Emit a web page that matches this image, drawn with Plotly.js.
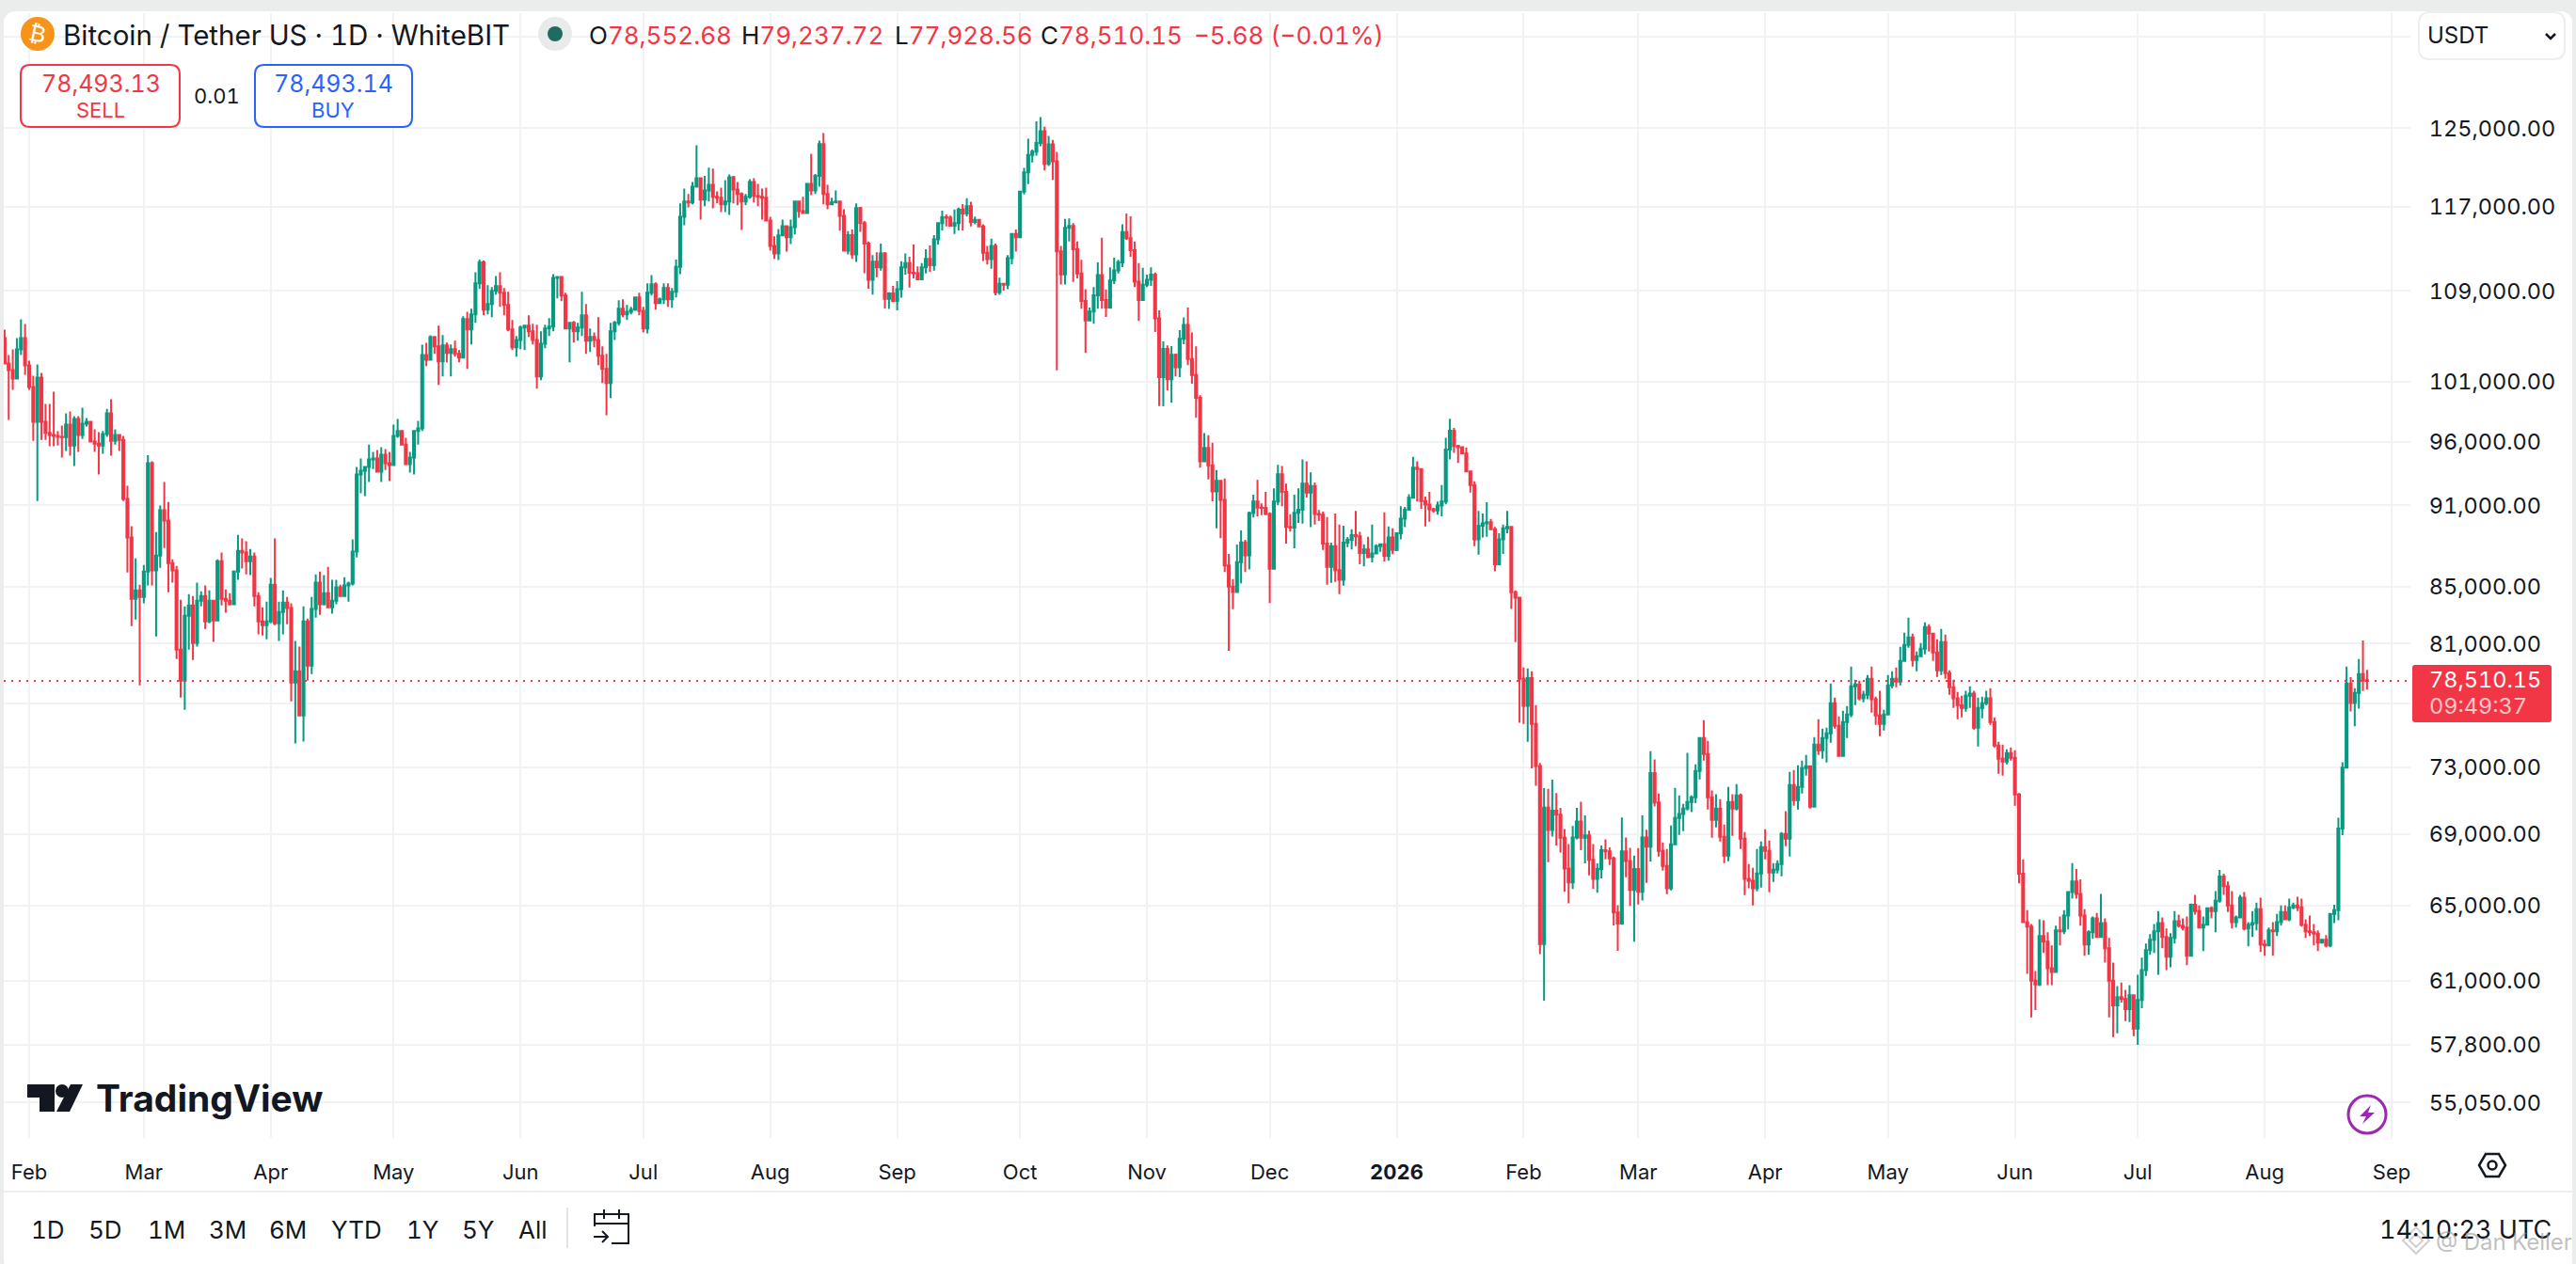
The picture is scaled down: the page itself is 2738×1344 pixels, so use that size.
<!DOCTYPE html>
<html><head><meta charset="utf-8">
<script src="https://cdn.plot.ly/plotly-3.0.1.min.js"></script>
<style>
html,body{margin:0;padding:0;width:2738px;height:1344px;overflow:hidden;background:#ebeded}
#panel{position:absolute;left:4px;top:12px;width:2730px;height:1340px;background:#fff;border-radius:12px}
#chart{position:absolute;left:0;top:0;width:2738px;height:1344px}
svg text{font-feature-settings:"tnum" 1;font-variant-numeric:tabular-nums}
</style></head><body><div id="panel"></div><div id="chart"></div>
<script>
const firstDay = '2025-01-26';
const lastPrice = 78510.15;
const opens = [104760,102550,101980,101250,103765,104760,102390,100535,97640,101325,
97640,96720,96565,96490,96410,96380,97410,95710,97870,96565,
97485,97640,96015,95860,95710,96640,98330,96090,96565,96165,
91490,88570,84125,84725,84255,86080,94285,86150,87245,90630,
89845,86690,86150,80605,78520,82935,83660,81055,83990,84320,
82540,83990,82605,86830,84125,83990,83730,86080,87590,87455,
86830,87175,84320,82540,82275,82540,85130,82410,83200,83860,
83465,78400,79150,76260,82540,79525,83400,85270,83730,84525,
83530,83990,84930,84320,85065,85200,87525,93395,93690,93985,
94585,94660,93615,94960,94285,94135,96490,96875,95785,94210,
94735,96875,97100,103280,102870,
104840,104030,102720,104110,103460,103785,103375,103050,106450,105530,
106865,109690,111650,107285,107800,109005,109435,108830,107715,105530,
103945,104600,105695,105860,105360,104600,101425,104270,105610,105780,
110210,110295,108575,105610,106115,105360,105695,106785,104520,104855,
104600,103210,102070,100870,105360,106115,107370,106865,107115,107285,
108400,107200,105610,108830,109605,107885,108230,109260,108230,108920,
111240,116020,117510,117415,119000,119840,117695,118625,119185,117975,
117880,117230,117510,119935,118720,118255,117510,117975,119470,118070,
117975,117880,115660,113210,112500,114210,115110,114030,115020,117510,
116575,116390,119280,118625,120085,123320,118255,117230,117420,117510,116110,
112765,114250,112395,116875,115400,113420,110030,111720,111180,112495,
108280,108770,108080,109165,111180,111585,110670,110640,110060,111180,
111990,111380,113835,115400,115960,115925,115155,115400,116730,116340,
117050,115505,115715,115085,112560,111955,113205,108870,109655,109560,
112055,114350,114040,118495,120445,122220,122555,123445,124690,121300,
123295,121555,112690,110535,114950,115125,112900,110605,108080,106315,
107130,108605,110470,108180,107490,109960,110905,111650,114530,113940,
112800,109860,108180,109560,110030,110505,106510,101375,103800,101190,
103295,102210,104690,105935,102920,101560,99630,94445,95520,94130,
92075,92895,91430,86520,84985,84600,86755,88215,87260,90415,
91295,
90830,90820,90350,86270,91305,93425,92045,89375,89315,90440,
90675,92690,91980,92505,90350,90290,88130,86420,87925,86180,
85470,88190,88400,88755,88665,87420,87690,87130,87395,87925,
88075,87215,88575,87660,88900,89995,90675,91585,93945,93820,
91340,91060,90705,90615,91000,91305,95385,96900,95660,95570,
95080,93640,92565,88430,89460,89640,89730,89195,86595,88430,
89255,89375,84585,84200,78640,76875,78700,75715,73075,62910,
70565,69255,70380,70145,68800,67040,66260,68820,69750,68800,
68935,67530,66460,67015,68085,68020,67615,64600,64010,68020,
67460,65850,67015,65735,68820,68285,72650,
70870,68045,67190,65930,68425,69960,70185,70515,70900,71185,
72777,74820,73825,71185,69850,70515,68855,67780,70900,70515,
71300,68745,66455,66350,65930,66765,68265,68045,66820,66975,
67295,69020,68745,71925,71015,71810,72950,73070,70625,74410,
74060,74820,75120,77050,75600,73710,75840,76320,78155,78280,
77360,77600,78645,77300,76260,75720,76320,78215,78645,78460,
79845,80920,81440,79905,80160,80665,82150,81695,80410,79210,
81110,79020,78095,77360,76925,76740,77540,77665,75480,76740,
77050,77360,75840,74350,73535,73360,73885,73595,
71355,66750,64085,63840,61000,60815,63340,63040,61645,61450,
63640,63590,64435,65730,66320,65625,64435,62890,63540,64285,
63290,64035,62690,61000,59750,60165,60070,59560,60260,58590,
60025,61550,62590,63140,63590,64035,63290,62245,63240,64135,
63890,63790,62295,65035,64685,63790,63940,64835,64685,65250,
66590,66055,64985,64085,64335,65410,63740,63940,64035,64785,
62890,62840,63640,63590,64085,64635,64235,64885,64985,64885,
63940,63590,63540,63470,62990,63140,62840,64535,64735,69330,
72980,78330,77060,77725,78955,78552.68];
const highs = [105510,103280,103765,104760,106430,106010,102790,101486,102470,101730,
99110,99110,100140,96875,97330,98330,98480,98100,98100,98790,
97945,97715,97025,96795,96875,98710,99510,97025,96640,96490,
92515,89415,87035,85130,86555,94930,94435,88985,90985,92810,
91270,86970,86490,84060,83595,84455,84320,85270,84660,85065,
84725,83990,86970,87455,84795,84525,86150,88775,88500,88290,
87730,87455,84590,83530,83925,85605,88500,83925,84725,84255,
83795,81185,80800,83595,82740,84255,85875,86080,85810,86420,
85470,85470,85130,85670,85335,88430,93985,94660,94000,95785,
95185,95335,95560,95410,95185,97410,97870,96950,96330,95185,
96900,97715,104170,104340,105010,
104935,105860,105020,104355,104190,104520,103700,106700,107115,107370,
110720,111915,111825,109520,109350,110380,110720,109260,108920,106365,
104935,105860,105945,106785,106030,105945,105360,105945,106530,110550,
110380,110380,108830,106200,106280,106115,108920,107800,105610,105250,
106615,104030,103375,106115,106280,108145,108230,107715,107545,108490,
108830,107545,109690,110465,109780,108400,109690,109690,109260,111915,
117325,118810,118255,119470,123220,119935,120085,120910,120815,118530,
118905,119650,120220,120085,119470,118440,118255,119750,119840,119280,
118810,118905,116020,114120,114840,115750,115110,115750,117600,117600,
117975,119375,122335,120280,123710,124490,119185,117880,118625,117600,116760,
114630,114775,117340,116980,115610,113625,112325,112600,113420,112630,
108870,109460,109895,111755,112495,112190,113350,111280,111585,112900,
113245,114250,115430,116620,116240,116135,116730,116910,117270,117850,
117490,116030,115820,115295,113205,113905,113420,110230,109690,112325,
114400,114775,118565,120890,123890,122775,125720,126180,125150,124195,
123775,122520,113205,115820,115855,115400,113625,111885,109165,107490,
109360,111650,114000,109130,111180,112090,111885,115295,116340,116060,
113625,111585,111145,110505,111180,110705,107230,104470,104120,104055,
103390,105455,106605,107490,105265,104025,99840,96715,96540,95925,
93760,92895,93090,87365,85525,88055,89100,88400,90525,91825,
92975,
91155,92045,90470,92320,94160,94070,92690,90320,91830,92320,
94590,94435,93575,92780,90645,90525,90115,88190,90380,89550,
89460,88605,89195,90585,88990,88075,88635,89550,88075,88105,
90470,89405,89255,88960,90940,90880,91860,94805,94435,93790,
91680,92045,90820,91305,92565,96320,97890,97125,95755,95600,
95540,93700,92870,90585,90380,91245,89965,89375,88900,89550,
90585,89375,84725,84255,79395,79340,79150,76925,73275,71735,
71690,72250,71430,70545,69305,68440,69490,70545,70920,70100,
69210,68440,67330,68355,68710,68240,67720,65000,69985,68820,
68220,67775,68200,70100,69260,74000,73480,
71415,68535,68155,69515,71755,71300,70790,73900,71300,73185,
74880,75960,74645,71585,71360,71070,69570,71810,71360,71980,
71415,69130,67295,67080,68155,68590,69295,68640,67350,67510,
69130,70350,72720,72835,73130,73420,73770,73130,74880,76020,
75420,75480,78340,77415,76200,76560,76865,79465,78585,78525,
77850,78895,79465,77480,77850,76620,78895,79150,79400,80790,
81760,82800,81695,80475,81050,82475,82345,81760,81305,82020,
81630,79210,78585,77785,77540,77850,78155,77850,77415,77480,
77850,78030,76140,74585,74410,74120,74235,74060,
71440,67555,64735,63985,61500,64235,64185,63540,62840,63890,
64385,64735,65785,67340,67020,66430,64785,63640,64385,64585,
65625,64285,63240,61945,60720,60905,60535,60770,60260,61300,
62195,62940,63440,63985,64685,64335,63740,63490,64685,64485,
64285,64385,65090,65570,64985,64385,64860,64935,65785,66965,
66750,66320,65785,64435,65570,65730,64085,64685,65145,65410,
63140,63790,64085,64535,64985,64985,65360,65145,65465,65360,
64235,64435,63985,63640,63190,63390,64585,65035,69965,73315,
79460,78760,78025,79965,81230,79237.72];
const lows = [102550,97790,100300,101250,103280,101570,100300,96090,91340,96165,
96165,95635,95635,95710,94735,95260,94885,94060,95185,96240,
97255,96015,95185,93395,95035,96410,94885,95785,95260,91340,
86010,82210,82670,78210,83795,85065,85065,81505,86350,87800,
84590,85270,79965,77410,76620,80605,79900,80800,83595,82020,
82410,81120,82540,83660,83135,83660,83795,85470,86285,85875,
85810,83595,81635,81570,81310,82410,82275,81185,81635,82340,
77165,74480,76195,74600,78520,78960,82805,83000,83660,83530,
83070,83730,84320,84320,83925,85065,87105,91930,91710,92810,
93835,93615,92810,93760,92880,94135,96330,95785,94135,93540,
93395,95785,96875,102310,102870,
103375,100710,101425,102640,101425,103130,102640,103050,102070,104190,
106115,109175,106785,106865,106615,108660,107545,106785,105360,103700,
103130,103785,103700,104855,104190,100390,101110,103865,104935,105360,
108320,108060,105610,102640,104355,104520,104935,103375,103540,103945,
102395,100870,98170,99595,104600,105860,106615,106365,106865,107200,
106785,105250,105165,108575,107285,107800,107800,107545,107460,108400,
110550,115205,116950,117230,118905,115750,117045,117510,116855,117325,
116480,116480,116200,117325,117140,114750,117140,117790,117415,117045,
115750,115565,112765,111970,111880,114120,112680,113390,114300,115930,
116390,116390,118160,118255,119000,117230,116760,117140,117325,114660,112765,
112395,111990,111685,114560,110640,109200,108670,110270,110875,107400,
107360,108020,107230,108380,110505,109300,110165,110030,110060,110605,
110775,110875,113350,114700,115085,115085,114350,114700,114700,116030,
115085,115295,115085,111785,111450,111045,108605,108640,109035,109165,
111480,112665,113970,118220,119250,121445,122150,123110,120630,121075,
119680,101960,109590,109590,113625,109825,110165,107390,103450,106315,
106030,107390,107390,106640,107390,109625,110605,111215,113800,112190,
109360,106285,108180,109360,109460,105295,98945,98915,100265,99215,
101440,101375,104215,102395,100820,97955,93930,94445,93005,91320,
89265,88530,86040,80520,83395,84600,85220,86040,86225,90085,
90170,
90260,90260,83815,86240,91030,90940,88130,89020,87775,89670,
89610,91615,89345,89550,89820,87660,85120,85265,85325,84450,
85060,87865,87690,87925,86595,86450,87040,86745,87335,87510,
86800,86860,87335,87570,88430,89345,90615,91555,91305,90735,
89405,89760,90440,90290,90170,91090,94590,95110,94315,95020,
93640,91980,87925,87305,88575,88635,89195,86095,86535,87365,
88900,83400,81110,75790,75715,74580,72930,71875,62385,59985,
67395,68865,68355,67950,65745,65110,65900,68710,68085,67330,
66660,65900,65690,66480,67555,67240,63900,62550,63945,66550,
64960,63040,65045,65265,66235,67440,70640,
67725,66925,65610,65820,68370,68965,69185,70405,70295,70825,
72265,73420,70460,68800,69405,68585,67350,67455,68910,70405,
68155,65560,65930,64995,65770,65980,67565,65720,66295,66765,
66610,68310,67725,70680,70460,71415,72490,70515,70570,73765,
73535,73300,74525,75420,73710,73710,74820,76140,76925,77235,
77110,77300,76440,75660,74940,75300,76260,78030,78095,78215,
79780,80730,79465,79150,80095,80285,80475,79845,78770,78895,
78645,77600,76740,76020,76140,76500,76740,75360,74290,76080,
76925,75660,74235,72600,72490,73185,73420,70680,
66215,64085,61350,59145,59515,60720,62445,60770,60770,61450,
62840,63440,63690,65360,65360,63890,62295,62345,63190,63290,
63290,61945,59145,58170,58355,59890,58960,58915,58220,57800,
59610,61250,62345,62445,61300,62690,61550,61695,62940,63790,
63640,61800,62295,64485,63740,62545,63890,64285,63540,65145,
65570,64635,63740,63790,64285,63640,62790,63290,63640,62495,
62295,62790,62295,63340,63890,64185,64135,64785,64685,63840,
63240,63340,62840,62545,62940,62745,62745,64035,64185,68945,
72925,76520,75560,76700,77845,77928.56];
const closes = [102550,101980,101250,103765,104760,102390,100535,97640,101325,97640,
96720,96565,96490,96410,96380,97410,95710,97870,96565,97485,
97640,96015,95860,95710,96640,98330,96090,96565,96165,91490,
88570,84125,84725,84255,86080,94285,86150,87245,90630,89845,
86690,86150,80605,78520,82935,83660,81055,83990,84320,82540,
83990,82605,86830,84125,83990,83730,86080,87590,87455,86830,
87175,84320,82540,82275,82540,85130,82410,83200,83860,83465,
78400,79150,76260,82540,79525,83400,85270,83730,84525,83530,
83990,84930,84320,85065,85200,87525,93395,93690,93985,94585,
94660,93615,94960,94285,94135,96490,96875,95785,94210,94735,
96875,97100,103280,102870,104840,
104030,102720,104110,103460,103785,103375,103050,106450,105530,106865,
109690,111650,107285,107800,109005,109435,108830,107715,105530,103945,
104600,105695,105860,105360,104600,101425,104270,105610,105780,110210,
110295,108575,105610,106115,105360,105695,106785,104520,104855,104600,
103210,102070,100870,105360,106115,107370,106865,107115,107285,108400,
107200,105610,108830,109605,107885,108230,109260,108230,108920,111240,
116020,117510,117415,119000,119840,117695,118625,119185,117975,117880,
117230,117510,119935,118720,118255,117510,117975,119470,118070,117975,
117880,115660,113210,112500,114210,115110,114030,115020,117510,116575,
116390,119280,118625,120085,123320,118255,117230,117420,117510,116110,112765,
114250,112395,116875,115400,113420,110030,111720,111180,112495,108280,
108770,108080,109165,111180,111585,110670,110640,110060,111180,111990,
111380,113835,115400,115960,115925,115155,115400,116730,116340,117050,
115505,115715,115085,112560,111955,113205,108870,109655,109560,112055,
114350,114040,118495,120445,122220,122555,123445,124690,121300,123295,
121555,112690,110535,114950,115125,112900,110605,108080,106315,107130,
108605,110470,108180,107490,109960,110905,111650,114530,113940,112800,
109860,108180,109560,110030,110505,106510,101375,103800,101190,103295,
102210,104690,105935,102920,101560,99630,94445,95520,94130,92075,
92895,91430,86520,84985,84600,86755,88215,87260,90415,91295,
90830,
90820,90350,86270,91305,93425,92045,89375,89315,90440,90675,
92690,91980,92505,90350,90290,88130,86420,87925,86180,85470,
88190,88400,88755,88665,87420,87690,87130,87395,87925,88075,
87215,88575,87660,88900,89995,90675,91585,93945,93820,91340,
91060,90705,90615,91000,91305,95385,96900,95660,95570,95080,
93640,92565,88430,89460,89640,89730,89195,86595,88430,89255,
89375,84585,84200,78640,76875,78700,75715,73075,62910,70565,
69255,70380,70145,68800,67040,66260,68820,69750,68800,68935,
67530,66460,67015,68085,68020,67615,64600,64010,68020,67460,
65850,67015,65735,68820,68285,72650,70870,
68045,67190,65930,68425,69960,70185,70515,70900,71185,72777,
74820,73825,71185,69850,70515,68855,67780,70900,70515,71300,
68745,66455,66350,65930,66765,68265,68045,66820,66975,67295,
69020,68745,71925,71015,71810,72950,73070,70625,74410,74060,
74820,75120,77050,75600,73710,75840,76320,78155,78280,77360,
77600,78645,77300,76260,75720,76320,78215,78645,78460,79845,
80920,81440,79905,80160,80665,82150,81695,80410,79210,81110,
79020,78095,77360,76925,76740,77540,77665,75480,76740,77050,
77360,75840,74350,73535,73360,73885,73595,71355,
66750,64085,63840,61000,60815,63340,63040,61645,61450,63640,
63590,64435,65730,66320,65625,64435,62890,63540,64285,63290,
64035,62690,61000,59750,60165,60070,59560,60260,58590,60025,
61550,62590,63140,63590,64035,63290,62245,63240,64135,63890,
63790,62295,65035,64685,63790,63940,64835,64685,65250,66590,
66055,64985,64085,64335,65410,63740,63940,64035,64785,62890,
62840,63640,63590,64085,64635,64235,64885,64985,64885,63940,
63590,63540,63470,62990,63140,62840,64535,64735,69330,72980,
78330,77060,77725,78955,78515.83,78510.15];
const priceTicks = [135000,125000,117000,109000,101000,96000,91000,85000,81000,77000,73000,69000,65000,61000,57800,55050];
const priceLabels = ['','125,000.00','117,000.00','109,000.00','101,000.00','96,000.00','91,000.00','85,000.00','81,000.00','','73,000.00','69,000.00','65,000.00','61,000.00','57,800.00','55,050.00'];
const monthTicks = ['2025-02-01','2025-03-01','2025-04-01','2025-05-01','2025-06-01','2025-07-01','2025-08-01','2025-09-01','2025-10-01','2025-11-01','2025-12-01','2026-01-01','2026-02-01','2026-03-01','2026-04-01','2026-05-01','2026-06-01','2026-07-01','2026-08-01','2026-09-01'];
const monthLabels = ['Feb','Mar','Apr','May','Jun','Jul','Aug','Sep','Oct','Nov','Dec','<b>2026</b>','Feb','Mar','Apr','May','Jun','Jul','Aug','Sep'];
const rangeButtons = [['1D',51],['5D',112],['1M',177],['3M',242],['6M',306],['YTD',379],['1Y',449],['5Y',508],['All',566]];

const RED='#F23645', GREEN='#089981', BLUE='#2962FF', INK='#131722', GRID='#f1f2f3';
const FONT='Inter, "Noto Sans", sans-serif';
const W=2738,H=1344,mL=4,mR=176,mT=14,mB=134;
const px=x=>(x-mL)/(W-mL-mR), py=y=>1-(y-mT)/(H-mT-mB);
const dates=opens.map((_,i)=>new Date(Date.parse(firstDay+'T00:00:00Z')+i*864e5).toISOString().slice(0,10));

const notes=[];
function label(text,x,y,size,color,anchor='left',extra={}){
  notes.push(Object.assign({text,xref:'paper',yref:'paper',x:px(x),y:py(y),xanchor:anchor,yanchor:'middle',showarrow:false,
    font:{family:FONT,size,color},borderpad:0},extra));
}
const shapes=[];
function P(s){ // pixel path -> paper path
  let n=0;
  return s.replace(/-?\d+(\.\d+)?/g,m=>{const v=parseFloat(m);return (n++%2===0?px(v):py(v)).toFixed(6);});
}
function path(s,o={}){shapes.push(Object.assign({type:'path',xref:'paper',yref:'paper',path:P(s),layer:'above',line:{width:0}},o));}
function rr(x0,y0,x1,y1,r){return `M ${x0+r} ${y0} L ${x1-r} ${y0} Q ${x1} ${y0} ${x1} ${y0+r} L ${x1} ${y1-r} Q ${x1} ${y1} ${x1-r} ${y1} L ${x0+r} ${y1} Q ${x0} ${y1} ${x0} ${y1-r} L ${x0} ${y0+r} Q ${x0} ${y0} ${x0+r} ${y0} Z`;}
function circle(cx,cy,r,o){shapes.push(Object.assign({type:'circle',xref:'paper',yref:'paper',x0:px(cx-r),x1:px(cx+r),y0:py(cy+r),y1:py(cy-r),layer:'above'},o));}
function seg(x0,y0,x1,y1,color,width){shapes.push({type:'line',xref:'paper',yref:'paper',x0:px(x0),x1:px(x1),y0:py(y0),y1:py(y1),layer:'above',line:{color,width}});}

// Header
circle(40,36,18,{fillcolor:'#F7931A',line:{width:0}});
label('₿',40,36,24,'#ffffff','center',{textangle:12,font:{family:'"DejaVu Sans",sans-serif',size:24,color:'#fff'}});
label('Bitcoin / Tether US · 1D · WhiteBIT',66,37,29.5,INK);
circle(590,36,18,{fillcolor:'#e9ebeb',line:{width:0}});
circle(590,36,8,{fillcolor:'#1f6b60',line:{width:0}});
[['O','78,552.68',625],['H','79,237.72',787],['L','77,928.56',950],['C','78,510.15',1105]].forEach(([k,v,x])=>{
  label(`<span style="color:${INK}">${k}</span>${v}`,x,37,26,RED);
});
label('−5.68 (−0.01%)',1268,37,26,RED);

// Sell / buy
path(rr(22,69,191,135,10),{fillcolor:'#fff',line:{color:RED,width:2}});
path(rr(271,69,438,135,10),{fillcolor:'#fff',line:{color:BLUE,width:2}});
label('78,493.13',107,89,25,RED,'center');
label('SELL',107,117,22,RED,'center');
label('0.01',230,102,22,INK,'center');
label('78,493.14',354,89,25,BLUE,'center');
label('BUY',354,117,22,BLUE,'center');

// Currency selector
path(rr(2571,13,2726,63,12),{fillcolor:'#fff',line:{color:'#eceeef',width:2}});
label('USDT',2579,38,24,INK);
path('M 2706 36 L 2711 41 L 2716 36',{line:{color:INK,width:2.5}});

// Last price tag
path(rr(2564,707,2712,768,3),{fillcolor:RED,line:{width:0}});
label('78,510.15',2581,722,23.5,'#ffffff');
label('09:49:37',2581,750,23.5,'rgba(255,255,255,0.72)');

// Logo
path('M 29 1153 L 58 1153 L 58 1182 L 42 1182 L 42 1167 L 29 1167 Z',{fillcolor:INK});
circle(66,1160,7,{fillcolor:INK,line:{width:0}});
path('M 75 1153 L 88 1153 L 74 1182 L 60 1182 Z',{fillcolor:INK});
label('<b>TradingView</b>',101,1167,39,INK);

// Lightning + settings
circle(2516,1185,20,{fillcolor:'rgba(255,255,255,0)',line:{color:'#9C27B0',width:3}});
path('M 2520 1175 L 2508 1187 L 2515 1187 L 2511 1195 L 2524 1183 L 2517 1183 Z',{fillcolor:'#9C27B0'});
path('M 2635 1239 L 2642 1227 L 2656 1227 L 2663 1239 L 2656 1251 L 2642 1251 Z',{line:{color:INK,width:2.5}});
circle(2649,1239,4.5,{fillcolor:'rgba(255,255,255,0)',line:{color:INK,width:2.5}});

// Separators
seg(4,1267,2734,1267,'#eceeef',2);
seg(603,1284,603,1327,'#e0e3eb',2);

// Range row
rangeButtons.forEach(([t,x])=>label(t,x,1307,26,INK,'center'));
path('M 632 1304 L 632 1291 L 668 1291 L 668 1322 L 650 1322',{line:{color:INK,width:2}});
seg(632,1301,668,1301,INK,2);
seg(642,1286,642,1296,INK,2);
seg(658,1286,658,1296,INK,2);
path('M 631 1315 L 645 1315 M 640 1309 L 646 1315 L 640 1321',{line:{color:INK,width:2}});
label('14:10:23 UTC',2713,1307,27,INK,'right');

// Watermark
path('M 2568 1305 L 2582 1319 L 2568 1333 L 2554 1319 Z',{line:{color:'rgba(170,170,170,0.55)',width:2}});
path('M 2568 1312 L 2575 1319 L 2568 1326 L 2561 1319 Z',{line:{color:'rgba(170,170,170,0.55)',width:2}});
label('@ Dan Keller',2588,1320,24,'rgba(150,150,150,0.6)');

const traces=[
 {type:'candlestick',x:dates,open:opens,high:highs,low:lows,close:closes,hoverinfo:'skip',showlegend:false,
  whiskerwidth:0,
  increasing:{line:{color:GREEN,width:2},fillcolor:GREEN},
  decreasing:{line:{color:RED,width:2},fillcolor:RED}},
 {type:'scatter',mode:'lines',x:['2025-01-25T19:00:00Z','2026-09-05T14:00:00Z'],y:[lastPrice,lastPrice],
  hoverinfo:'skip',showlegend:false,line:{color:RED,width:2,dash:'2px,6px'}}
];
const layout={
 width:W,height:H,margin:{l:mL,r:mR,t:mT,b:mB,pad:0},
 paper_bgcolor:'rgba(0,0,0,0)',plot_bgcolor:'rgba(0,0,0,0)',
 font:{family:FONT,color:INK},showlegend:false,
 xaxis:{type:'date',range:['2025-01-25T19:06:00Z','2026-09-05T14:18:00Z'],rangeslider:{visible:false},
  tickmode:'array',tickvals:monthTicks,ticktext:monthLabels,ticks:'outside',ticklen:17,tickcolor:'rgba(0,0,0,0)',
  tickfont:{family:FONT,size:22,color:INK},showgrid:true,gridcolor:GRID,gridwidth:2,showline:false,zeroline:false,fixedrange:true},
 yaxis:{type:'log',side:'right',range:[Math.log10(53440),Math.log10(137700)],
  tickmode:'array',tickvals:priceTicks,ticktext:priceLabels,ticks:'outside',ticklen:14,tickcolor:'rgba(0,0,0,0)',
  tickfont:{family:FONT,size:23.5,color:INK},showgrid:true,gridcolor:GRID,gridwidth:2,showline:false,zeroline:false,fixedrange:true},
 shapes,annotations:notes
};
Plotly.newPlot('chart',traces,layout,{displayModeBar:false,staticPlot:true});
</script></body></html>
